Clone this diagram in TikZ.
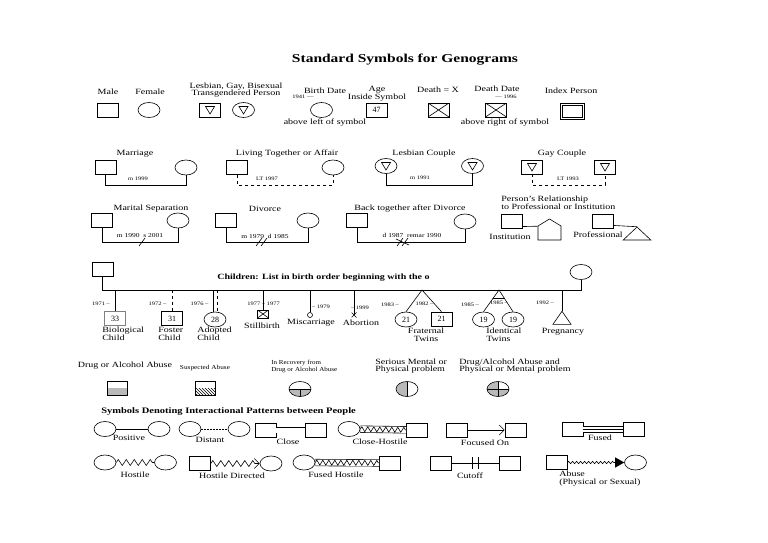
\documentclass[tikz,border=0pt]{standalone}
\usepackage{fontspec}
\setmainfont{Liberation Serif}
\usetikzlibrary{shapes.geometric,shapes.symbols,arrows.meta,decorations.pathmorphing,patterns,calc}
\begin{document}
\begin{tikzpicture}[x=1pt, y=-1pt, semithick,
  lab/.style={font=\fontsize{10}{9.5}\selectfont, inner sep=0pt, yscale=0.8, align=center},
  hdr/.style={font=\bfseries\fontsize{10}{10}\selectfont, inner sep=0pt, yscale=0.8, anchor=west},
  dat/.style={font=\fontsize{6.5}{7}\selectfont, inner sep=0pt, yscale=0.8},
  sq/.style={draw, minimum width=21pt, minimum height=14pt, inner sep=0pt, font=\fontsize{8}{8}\selectfont},
  ci/.style={draw, ellipse, minimum width=22pt, minimum height=15pt, inner sep=0pt, font=\fontsize{8}{8}\selectfont},
  gy/.style={path picture={\draw ([shift={(-4.5pt,3.5pt)}]path picture bounding box.center) -- ++(9pt,0pt) -- ++(-4.5pt,-7.5pt) -- cycle;}},
  dead/.style={path picture={\draw (path picture bounding box.north west) -- (path picture bounding box.south east) (path picture bounding box.north east) -- (path picture bounding box.south west);}},
  zig/.style={decorate, decoration={zigzag, segment length=8pt, amplitude=3pt}},
]
\useasboundingbox (0,0) rectangle (768,543);

% title
\node[font=\bfseries\fontsize{15.5}{16}\selectfont, inner sep=0pt, yscale=0.78] (title) at (405,60) {Standard Symbols for Genograms};

% basic symbols
\node[lab] (lmale) at (108,92) {Male};
\node[sq] (male) at (108,110) {};
\node[lab] (lfemale) at (150,92) {Female};
\node[ci] (female) at (149,110) {};
\node[lab] (llgbt) at (236,90) {Lesbian, Gay, Bisexual\\Transgendered Person};
\node[sq, gy] (lgbtm) at (210,110) {};
\node[ci, gy] (lgbtf) at (243.5,110) {};
\node[lab] (lbirth) at (325,91) {Birth Date};
\node[dat] (dbirth) at (303,97) {1941 ---};
\node[ci] (birth) at (321.5,110) {};
\node[lab] (lleft) at (325,123) {above left of symbol};
\node[lab] (lage) at (377,93.5) {Age\\Inside Symbol};
\node[sq] (age) at (376.5,110) {47};
\node[lab] (ldeath) at (438,90) {Death = X};
\node[sq, dead] (death) at (438.5,110) {};
\node[lab] (lddate) at (497,89) {Death Date};
\node[dat] (dddate) at (506,97) {--- 1996};
\node[sq, dead] (ddate) at (496,110) {};
\node[lab] (lright) at (505,123) {above right of symbol};
\node[lab] (lindex) at (571,91) {Index Person};
\node[sq, minimum width=24pt, minimum height=16pt, path picture={\draw ([shift={(2.2pt,-2.2pt)}]path picture bounding box.north west) rectangle ([shift={(-2.2pt,2.2pt)}]path picture bounding box.south east);}] (index) at (572,111) {};

% couples
\node[lab] (lmarr) at (135,154) {Marriage};
\node[sq] (marrm) at (105.5,167.5) {};
\node[ci] (marrf) at (186,167.5) {};
\draw (marrm.south) -- ++(0,10) -| (marrf.south);
\node[dat] (dmarr) at (138,179) {m 1999};

\node[lab] (llt) at (287,154) {Living Together or Affair};
\node[sq] (ltm) at (237,167.5) {};
\node[ci] (ltf) at (333,167.5) {};
\draw[dashed] (ltm.south) -- ++(0,10) -| (ltf.south);
\node[dat] (dlt) at (267,179) {LT 1997};

\node[lab] (lles) at (424,154) {Lesbian Couple};
\node[ci, gy] (lesa) at (386,166) {};
\node[ci, gy] (lesb) at (472.5,166) {};
\draw (lesa.south) -- ++(0,11.5) -| (lesb.south);
\node[dat] (dles) at (420,178) {m 1991};

\node[lab] (lgay) at (562,154) {Gay Couple};
\node[sq, gy] (gaya) at (532,167) {};
\node[sq, gy] (gayb) at (605,167) {};
\draw[dashed] (gaya.south) -- ++(0,11) -| (gayb.south);
\node[dat] (dgay) at (568,179) {LT 1993};

% separation and divorce
\node[lab] (lsep) at (151,209) {Marital Separation};
\node[sq] (sepm) at (102,220.5) {};
\node[ci] (sepf) at (178,220.5) {};
\draw (sepm.south) -- ++(0,14) -| (sepf.south);
\node[dat, font=\fontsize{7.5}{8}\selectfont] (dsep) at (140,236) {m 1990\ \ s 2001};
\draw (139,246) -- (145,238);

\node[lab] (ldiv) at (265,209) {Divorce};
\node[sq] (divm) at (226,220.5) {};
\node[ci] (divf) at (308,220.5) {};
\draw (divm.south) -- ++(0,14) -| (divf.south);
\node[dat, font=\fontsize{7.5}{8}\selectfont] (ddiv) at (265,236) {m 1979\ \ d 1985};
\draw (256,246) -- (262,238) (261,246) -- (267,238);

\node[lab] (lback) at (410,209) {Back together after Divorce};
\node[sq] (backm) at (357,220.5) {};
\node[ci] (backf) at (465,221.5) {};
\draw (backm.south) -- ++(0,14) -| (backf.south);
\node[dat, font=\fontsize{7.5}{8}\selectfont] (dback) at (412,235) {d 1987\ \ remar 1990};
\draw (397,246) -- (403,238) (402,246) -- (408,238) (396,239) -- (409,245);

% professional relationships
\node[lab, anchor=west, align=left] (lrel) at (501,202.5) {Person's Relationship\\to Professional or Institution};
\node[sq] (inst) at (512,221.5) {};
\node[draw, signal, signal to=north, signal pointer angle=117, minimum width=23pt, minimum height=14pt, inner sep=0pt] (house) at (549.5,233) {};
\draw (inst.-25) -- (house.150);
\node[lab] (linst) at (510,237) {Institution};
\node[sq] (prof) at (602.5,221.5) {};
\node[draw, regular polygon, regular polygon sides=3, minimum size=32pt, inner sep=0pt, yscale=0.54] (proft) at (637,235.7) {};
\draw (prof.-20) -- (proft.north);
\node[lab] (lprof) at (598,235) {Professional};

% children
\node[sq] (dad) at (102.5,269) {};
\node[ci] (mom) at (581,272) {};
\draw (dad.south) -- ++(0,14) -| (mom.south);
\coordinate (sib) at (0,290);
\node[hdr] (lkids) at (217,278) {Children: List in birth order beginning with the o};

\node[sq, draw=gray] (bio) at (115,318.5) {33};
\draw (bio.north |- sib) -- (bio.north);
\node[dat] (dbio) at (101,304) {1971 --};
\node[lab, anchor=west, align=left] (lbio) at (102,334) {Biological\\Child};

\node[sq] (fos) at (172,318.5) {31};
\draw[dashed] (fos.north |- sib) -- (fos.north);
\node[dat] (dfos) at (157.5,304) {1972 --};
\node[lab, anchor=west, align=left] (lfos) at (158,334) {Foster\\Child};

\node[ci] (ado) at (215,319.5) {28};
\coordinate (adoa) at (213,290);
\coordinate (adob) at (217,290);
\draw (adoa) -- (adoa |- ado.north);
\draw[dashed] (adob) -- (adob |- ado.north);
\node[dat] (dado) at (199.5,304) {1976 --};
\node[lab, anchor=west, align=left] (lado) at (197,334) {Adopted\\Child};

\node[draw, dead, minimum width=11pt, minimum height=8pt, inner sep=0pt] (still) at (263,314) {};
\draw (still.north |- sib) -- (still.north);
\node[dat] (dstill) at (263.5,304) {1977 -- 1977};
\node[lab] (lstill) at (262,326) {Stillbirth};

\node[draw, circle, minimum size=5pt, inner sep=0pt] (misc) at (310,315) {};
\draw (misc.north |- sib) -- (misc.north);
\node[dat] (dmisc) at (321,307) {-- 1979};
\node[lab] (lmisc) at (311,323) {Miscarriage};

\node[dead, minimum size=5pt, inner sep=0pt] (abor) at (354,315) {};
\draw (abor.north |- sib) -- (abor.center);
\node[dat] (dabor) at (360,308) {-- 1999};
\node[lab] (labor) at (361,323) {Abortion};

\coordinate (frat) at (422,290);
\node[ci] (frata) at (406,319.5) {21};
\node[sq] (fratb) at (441.5,319) {21};
\draw (frata.north) -- (frat) -- (fratb.north);
\node[dat] (dfrata) at (390,305) {1983 --};
\node[dat] (dfratb) at (424.5,304) {1982 --};
\node[lab] (lfrat) at (426,334.5) {Fraternal\\Twins};

\coordinate (iden) at (499,290);
\node[ci] (idena) at (483.5,319.5) {19};
\node[ci] (idenb) at (513,319.5) {19};
\draw (idena.north) -- (iden) -- (idenb.north);
\draw ($(iden)!0.4!(idena.north)$) -- ($(iden)!0.4!(idenb.north)$);
\node[dat] (didena) at (470,305) {1985 --};
\node[dat] (didenb) at (499,303) {1985 --};
\node[lab, anchor=west, align=left] (liden) at (486,334.5) {Identical\\Twins};

\node[draw, regular polygon, regular polygon sides=3, minimum size=21pt, inner sep=0pt, yscale=0.83] (preg) at (562,320) {};
\draw (preg.north |- sib) -- (preg.north);
\node[dat] (dpreg) at (545,303) {1992 --};
\node[lab] (lpreg) at (563,332) {Pregnancy};

% abuse and illness
\node[lab] (ldrug) at (125,366) {Drug or Alcohol Abuse};
\node[sq, minimum width=20pt, path picture={\fill[gray!55] (path picture bounding box.west) rectangle (path picture bounding box.south east);}] (drug) at (117,388) {};
\node[lab, font=\fontsize{7.3}{7.3}\selectfont, yscale=1.05] (lsusp) at (205,368) {Suspected Abuse};
\node[sq, minimum width=20pt, path picture={\fill[pattern=north west lines] (path picture bounding box.west) rectangle (path picture bounding box.south east);}] (susp) at (205,388) {};
\node[lab, font=\fontsize{7}{7}\selectfont, yscale=1.1, anchor=west, align=left] (lrec) at (271,366.5) {In Recovery from\\Drug or Alcohol Abuse};
\node[ci, path picture={\fill[gray!55] (path picture bounding box.west) rectangle (path picture bounding box.south east);
  \draw (path picture bounding box.west) -- (path picture bounding box.east) (path picture bounding box.center) -- (path picture bounding box.south);}] (rec) at (300,389) {};
\node[lab, anchor=west, align=left] (lser) at (375,366) {Serious Mental or\\Physical problem};
\node[ci, path picture={\fill[gray!55] (path picture bounding box.north west) rectangle (path picture bounding box.south);
  \draw (path picture bounding box.north) -- (path picture bounding box.south);}] (ser) at (407,389) {};
\node[lab, anchor=west, align=left] (lboth) at (459,366) {Drug/Alcohol Abuse and\\Physical or Mental problem};
\node[ci, path picture={\fill[gray!55] (path picture bounding box.north west) rectangle (path picture bounding box.south) (path picture bounding box.center) rectangle (path picture bounding box.south east);
  \draw (path picture bounding box.north) -- (path picture bounding box.south) (path picture bounding box.west) -- (path picture bounding box.east);}] (both) at (498,389) {};

% interactional patterns
\node[hdr, font=\bfseries\fontsize{10.5}{10.5}\selectfont] (lpat) at (101,412) {Symbols Denoting Interactional Patterns between People};

\node[ci] (pos1) at (105,429) {};
\node[ci] (pos2) at (159,429) {};
\draw (pos1) -- (pos2);
\node[lab] (lpos) at (129,438) {Positive};

\node[ci] (dis1) at (190,429) {};
\node[ci] (dis2) at (239,429) {};
\draw[dash pattern=on 1.5pt off 1.5pt] (dis1) -- (dis2);
\node[lab] (ldis) at (210,440) {Distant};

\node[sq] (clo1) at (265.5,430) {};
\node[sq] (clo2) at (315.5,430) {};
\draw[double, double distance=5pt] (clo1) -- (clo2);
\node[lab] (lclo) at (288,442) {Close};

\node[ci] (ch1) at (349,429) {};
\node[sq] (ch2) at (417,430) {};
\draw[double, double distance=6pt] (ch1) -- (ch2);
\draw[decorate, decoration={zigzag, segment length=6pt, amplitude=2.5pt}] (ch1) -- (ch2);
\node[lab] (lch) at (380,442) {Close-Hostile};

\node[sq] (foc1) at (456.5,430) {};
\node[sq] (foc2) at (515.5,430) {};
\draw[-{Straight Barb[length=5pt, width=10pt]}] (foc1) -- (foc2);
\node[lab] (lfoc) at (485,443) {Focused On};

\node[sq] (fus1) at (572.5,429.5) {};
\node[sq] (fus2) at (634,429.5) {};
\draw[double, double distance=5pt] (fus1) -- (fus2);
\draw (fus1) -- (fus2);
\node[lab] (lfus) at (600,438) {Fused};

\node[ci] (hos1) at (105,462.5) {};
\node[ci] (hos2) at (165.5,462.5) {};
\draw[zig] (hos1) -- (hos2);
\node[lab] (lhos) at (135,475) {Hostile};

\node[sq] (hd1) at (200,463.5) {};
\node[ci] (hd2) at (271,463.5) {};
\draw[decorate, decoration={zigzag, segment length=8pt, amplitude=3pt, post length=3pt}, -{Straight Barb[length=5pt, width=10pt]}] (hd1) -- (hd2);
\node[lab] (lhd) at (232,476) {Hostile Directed};

\node[ci] (fh1) at (304,462.5) {};
\node[sq] (fh2) at (390,463) {};
\draw[double, double distance=6pt] (fh1) -- (fh2);
\draw[decorate, decoration={zigzag, segment length=6pt, amplitude=2.5pt}] (fh1) -- (fh2);
\node[lab] (lfh) at (336,475) {Fused Hostile};

\node[sq] (cut1) at (441,463) {};
\node[sq] (cut2) at (509.5,463) {};
\draw (cut1) -- (cut2);
\draw (472,457) -- (472,469) (478,457) -- (478,469);
\node[lab] (lcut) at (470,476) {Cutoff};

\node[sq] (ab1) at (556.5,462.5) {};
\node[ci] (ab2) at (635.5,462.5) {};
\draw[decorate, decoration={snake, amplitude=1.2pt, segment length=4pt, post length=9pt}, -{Triangle[length=9pt, width=10pt]}] (ab1) -- (ab2);
\node[lab, anchor=west, align=left] (lab) at (559,478.5) {Abuse\\(Physical or Sexual)};
\end{tikzpicture}
\end{document}
